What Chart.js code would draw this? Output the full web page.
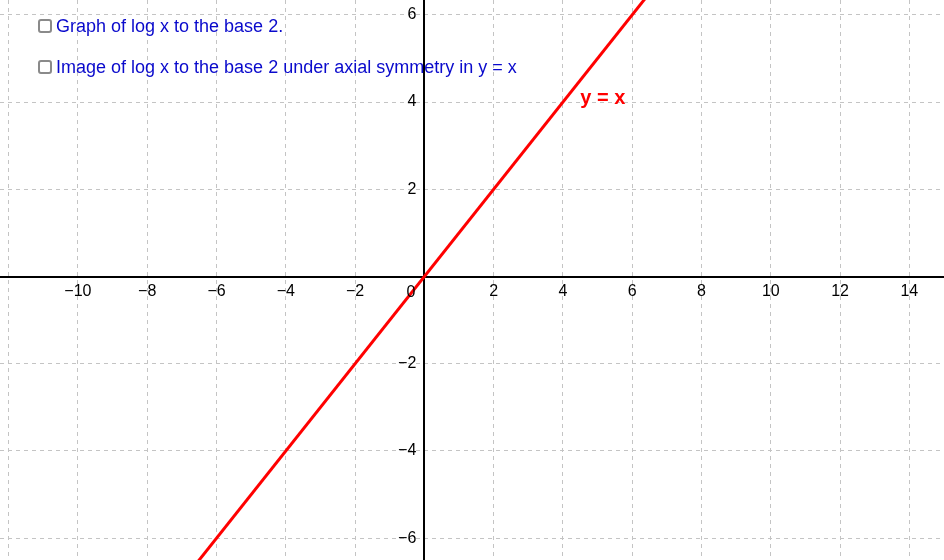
<!DOCTYPE html>
<html>
<head>
<meta charset="utf-8">
<script src="https://cdn.jsdelivr.net/npm/chart.js@4"></script>
<style>
  html, body { margin: 0; padding: 0; background: #ffffff; }
  #wrap { position: relative; width: 944px; height: 560px; overflow: hidden; }
  canvas { position: absolute; left: 0; top: 0; }
  .cb { position: absolute; left: 38px; width: 10px; height: 10px; border: 2px solid #8a8a8a; border-radius: 3px; background: #fff; }
  .cbl { position: absolute; left: 56px; font: 18px 'Liberation Sans', Arial, sans-serif; line-height: 18px; color: #0a0acc; white-space: nowrap; }
</style>
</head>
<body>
<div id="wrap">
  <canvas id="c" width="944" height="560"></canvas>
  <div class="cb" style="top:19px"></div>
  <div class="cbl" style="top:17px">Graph of log x to the base 2.</div>
  <div class="cb" style="top:60px"></div>
  <div class="cbl" style="top:58px">Image of log x to the base 2 under axial symmetry in y = x</div>
</div>
<script>
// ---- data ----
const xRange = [-12.25, 15];
const yRange = [-6.5, 6.34];
const xTickValues = [-12, -10, -8, -6, -4, -2, 0, 2, 4, 6, 8, 10, 12, 14];
const xLabelValues = [-10, -8, -6, -4, -2, 2, 4, 6, 8, 10, 12, 14];
const yTickValues = [-6, -4, -2, 0, 2, 4, 6];
const yLabelValues = [-6, -4, -2, 2, 4, 6];
const lineX = [-8, 8];          // y = x
const lineY = [-8, 8];
const lineLabel = 'y = x';
const lineLabelAt = [4.5, 4];
const originLabel = '0';

const FONT = "'Liberation Sans', Arial, sans-serif";
const fmt = v => (v < 0 ? '\u2212' + Math.abs(v) : String(v));
const gridColor = ctx => (ctx.tick && ctx.tick.value === 0) ? 'rgba(0,0,0,0)' : '#c4c4c4';
const noPad = s => { s.paddingTop = 0; s.paddingBottom = 0; s.paddingLeft = 0; s.paddingRight = 0; };

const annot = {
  id: 'annot',
  afterDraw(chart) {
    const { ctx, scales: { x, y } } = chart;
    ctx.save();
    // origin label
    ctx.font = '16px ' + FONT;
    ctx.fillStyle = '#000';
    ctx.textAlign = 'right';
    ctx.textBaseline = 'alphabetic';
    ctx.fillText(originLabel, x.getPixelForValue(0) - 9, y.getPixelForValue(0) + 20);
    // line label
    ctx.font = 'bold 20px ' + FONT;
    ctx.fillStyle = '#ff0000';
    ctx.textAlign = 'left';
    ctx.fillText(lineLabel, x.getPixelForValue(lineLabelAt[0]), y.getPixelForValue(lineLabelAt[1]) + 2);
    ctx.restore();
  }
};

new Chart(document.getElementById('c'), {
  type: 'scatter',
  data: {
    datasets: [{
      data: lineX.map((v, i) => ({ x: v, y: lineY[i] })),
      showLine: true,
      borderColor: '#ff0000',
      borderWidth: 3,
      pointRadius: 0,
      fill: false
    }]
  },
  options: {
    responsive: false,
    animation: false,
    layout: { padding: 0 },
    plugins: { legend: { display: false }, tooltip: { enabled: false } },
    scales: {
      x: {
        type: 'linear',
        min: xRange[0], max: xRange[1],
        position: { y: 0 },
        afterBuildTicks: s => { s.ticks = xTickValues.map(v => ({ value: v })); },
        afterFit: noPad,
        grid: { color: gridColor, lineWidth: 1, drawTicks: false, tickLength: 0 },
        border: { display: true, color: '#000', width: 2, dash: [4, 4] },
        ticks: {
          autoSkip: false, maxRotation: 0, padding: 5, color: '#000',
          font: { family: FONT, size: 16 },
          callback: v => xLabelValues.includes(v) ? fmt(v) : ''
        }
      },
      y: {
        type: 'linear',
        min: yRange[0], max: yRange[1],
        position: { x: 0 },
        afterBuildTicks: s => { s.ticks = yTickValues.map(v => ({ value: v })); },
        afterFit: noPad,
        grid: { color: gridColor, lineWidth: 1, drawTicks: false, tickLength: 0 },
        border: { display: true, color: '#000', width: 2, dash: [4, 4] },
        ticks: {
          autoSkip: false, padding: 0, color: '#000',
          font: { family: FONT, size: 16 },
          callback: v => yLabelValues.includes(v) ? fmt(v) + '\u2002' : ''
        }
      }
    }
  },
  plugins: [annot]
});
</script>
</body>
</html>
